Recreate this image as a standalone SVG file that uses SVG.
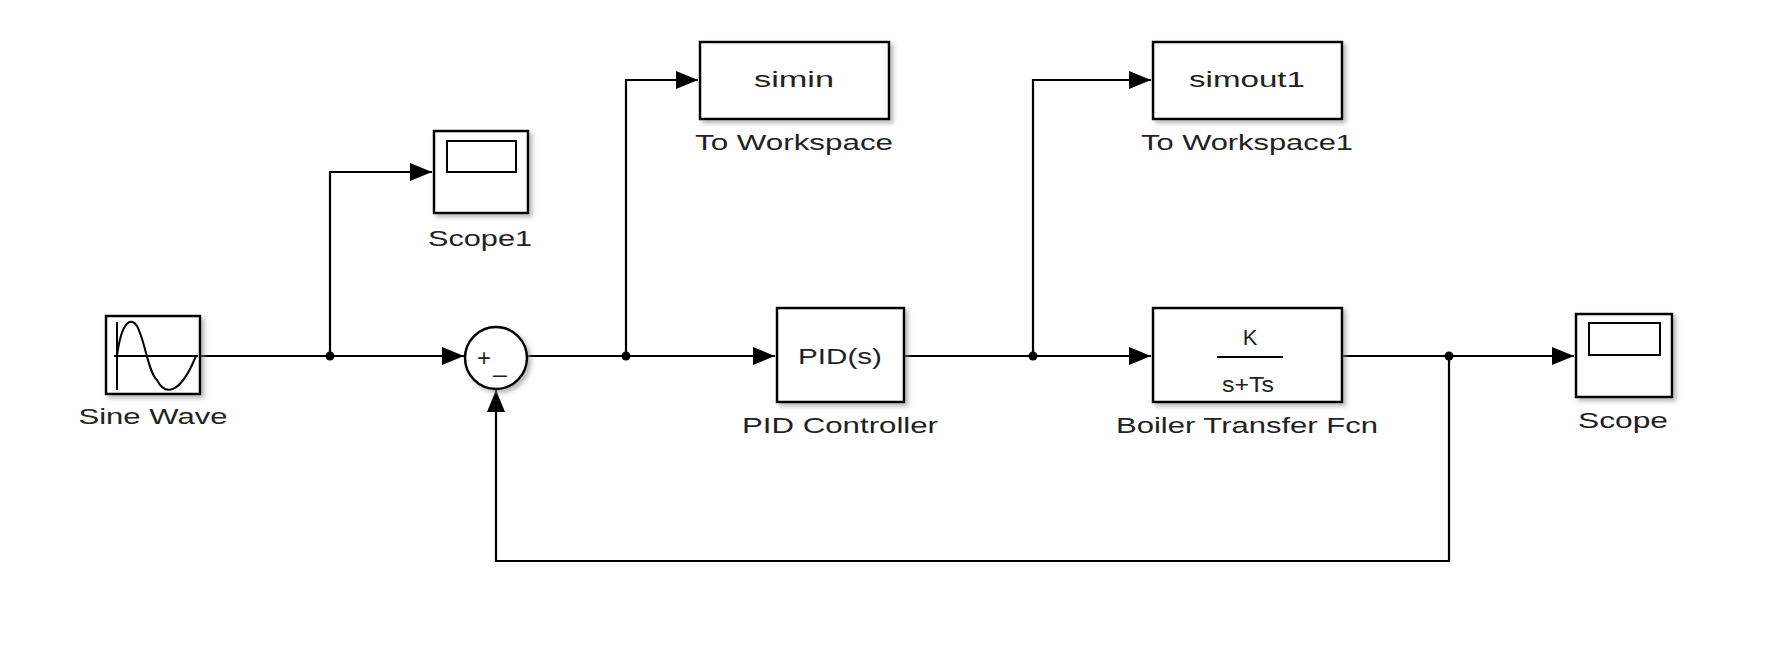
<svg xmlns="http://www.w3.org/2000/svg" width="1765" height="669" viewBox="0 0 1765 669">
<defs>
<marker id="ar" markerWidth="22" markerHeight="18" refX="22" refY="9" orient="auto" markerUnits="userSpaceOnUse" viewBox="0 0 22 18"><path d="M0,0 L22,9 L0,18 z" fill="#000"/></marker>
<filter id="sh" x="-10%" y="-10%" width="130%" height="130%"><feDropShadow dx="3" dy="3" stdDeviation="2" flood-color="#888" flood-opacity="0.6"/></filter>
<style>
.b{fill:#fff;stroke:#000;stroke-width:2.5;filter:url(#sh)}
.w{fill:none;stroke:#000;stroke-width:2}
.t{font-family:"Liberation Sans",Arial,sans-serif;font-size:22px;fill:#222;text-anchor:middle}
.c{stroke:#000;stroke-width:2.2;fill:none}
</style>
</defs>
<rect width="1765" height="669" fill="#fff"/>
<g id="connectors">
<path class="c" d="M200,356 H464" marker-end="url(#ar)"/>
<path class="c" d="M330,356 V172 H432" marker-end="url(#ar)"/>
<path class="c" d="M527,356 H775" marker-end="url(#ar)"/>
<path class="c" d="M626,356 V80 H698" marker-end="url(#ar)"/>
<path class="c" d="M904,356 H1151" marker-end="url(#ar)"/>
<path class="c" d="M1033,356 V80 H1151" marker-end="url(#ar)"/>
<path class="c" d="M1342,356 H1574" marker-end="url(#ar)"/>
<path class="c" d="M1449,356 V561 H496 V390" marker-end="url(#ar)"/>
<circle cx="330" cy="356" r="4.5"/><circle cx="626" cy="356" r="4.5"/><circle cx="1033" cy="356" r="4.5"/><circle cx="1449" cy="356" r="4.5"/>
</g>
<g id="sine">
<rect class="b" x="106" y="316" width="94" height="78"/>
<path class="w" d="M117,322 V390 M114,356 H198"/>
<path class="w" d="M117,356 C122,318 132,318 137,326 C145,340 148,372 157,380 C165,396 180,395 196,356" />
<text class="t" x="153" y="424" textLength="149" lengthAdjust="spacingAndGlyphs">Sine Wave</text>
</g>
<g id="scope1">
<rect class="b" x="434" y="131" width="94" height="82"/>
<rect class="w" x="447" y="141" width="69" height="31"/>
<text class="t" x="480" y="246" textLength="104" lengthAdjust="spacingAndGlyphs">Scope1</text>
</g>
<g id="sum">
<circle class="b" cx="496" cy="358" r="31"/>
<text class="t" x="484" y="366" style="font-size:24px">+</text>
<text class="t" x="500" y="372" style="font-size:24px">_</text>
</g>
<g id="simin">
<rect class="b" x="700" y="42" width="189" height="77"/>
<text class="t" x="794" y="87" textLength="80" lengthAdjust="spacingAndGlyphs">simin</text>
<text class="t" x="794" y="150" textLength="198" lengthAdjust="spacingAndGlyphs">To Workspace</text>
</g>
<g id="pid">
<rect class="b" x="777" y="308" width="127" height="94"/>
<text class="t" x="840" y="364" textLength="84" lengthAdjust="spacingAndGlyphs">PID(s)</text>
<text class="t" x="840" y="433" textLength="196" lengthAdjust="spacingAndGlyphs">PID Controller</text>
</g>
<g id="simout1">
<rect class="b" x="1153" y="42" width="189" height="77"/>
<text class="t" x="1247" y="87" textLength="116" lengthAdjust="spacingAndGlyphs">simout1</text>
<text class="t" x="1247" y="150" textLength="212" lengthAdjust="spacingAndGlyphs">To Workspace1</text>
</g>
<g id="tf">
<rect class="b" x="1153" y="308" width="189" height="94"/>
<text class="t" x="1250" y="345">K</text>
<path d="M1217,357 H1283" stroke="#000" stroke-width="2"/>
<text class="t" x="1248" y="392" textLength="52" lengthAdjust="spacingAndGlyphs">s+Ts</text>
<text class="t" x="1247" y="433" textLength="262" lengthAdjust="spacingAndGlyphs">Boiler Transfer Fcn</text>
</g>
<g id="scope">
<rect class="b" x="1576" y="314" width="96" height="83"/>
<rect class="w" x="1589" y="323" width="71" height="32"/>
<text class="t" x="1623" y="428" textLength="90" lengthAdjust="spacingAndGlyphs">Scope</text>
</g>
</svg>
